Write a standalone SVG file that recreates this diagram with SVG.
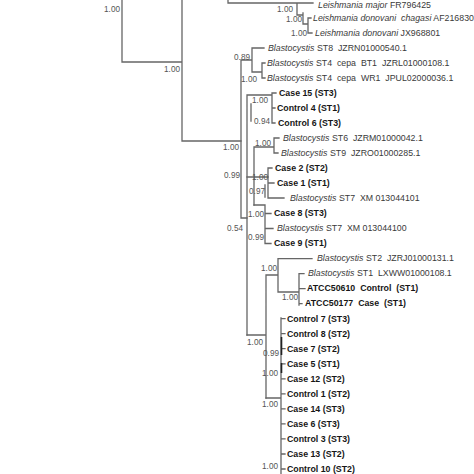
<svg xmlns="http://www.w3.org/2000/svg" width="474" height="474" viewBox="0 0 474 474">
<style>
.bg{fill:#ffffff}
.e{fill:none;stroke:#666666;stroke-width:1.3;stroke-linecap:square}
.dk{fill:none;stroke:#222;stroke-width:1.6}
text{font-family:"Liberation Sans",Arial,sans-serif;font-size:8.8px;white-space:pre}
.b{font-weight:bold;fill:#161616}
.n{fill:#3a3a3a}
.i{font-style:italic}
.s{font-size:8.2px;fill:#555;text-anchor:end}
</style>
<rect class="bg" x="0" y="0" width="474" height="474"/>
<g id="connectors">
<path class="e" d="M122,0V62H182M182,0V141H241"/>
<path class="e" d="M228,0V3H313M297,3V15H303M303,13V24H308M308,18V33M308,18H311M308,33H312"/>
<path class="e" d="M241,60V218H247M241,60H252M252,48V72M252,48H264M252,72H262M262,63V78M262,63H265M262,78H265"/>
<path class="e" d="M247,95V335M247,95H272M272,93V123M272,93H276M272,108H275M272,123H275M251,104V121"/>
<path class="e" d="M247,177H268M254,147V205M254,147H274M274,138V153M274,138H279M274,153H278"/>
<path class="e" d="M268,168V198M268,168H272M268,183H274M268,198H284M265,185V197"/>
<path class="e" d="M254,205H265M265,205V243M265,213.5H271M265,228.5H273M265,243.5H271"/>
<path class="e" d="M247,335H266M266,275V398M266,275H278M278,259V292M278,258.6H312M278,292H299M299,274V305M299,273.6H304M299,288.6H305M299,303.6H302"/>
<path class="e" d="M266,398H281M281,318V474M281,318.7H285M281,333.7H285M281,348.7H285M281,363.8H285M281,378.8H285M281,393.8H285M281,408.9H285M281,423.9H285M281,438.9H285M281,454H285M281,469H285"/>
<path class="dk" d="M281.5,337V355M281.5,363V373"/>
</g>
<g id="support">
<text class="s" x="120" y="12">1.00</text>
<text class="s" x="180" y="72">1.00</text>
<text class="s" x="239" y="150">1.00</text>
<text class="s" x="293" y="12">1.00</text>
<text class="s" x="302" y="22">1.00</text>
<text class="s" x="307" y="36">1.00</text>
<text class="s" x="250" y="60">0.89</text>
<text class="s" x="257" y="82">1.00</text>
<text class="s" x="268" y="103">1.00</text>
<text class="s" x="270" y="124">0.94</text>
<text class="s" x="271" y="146">1.00</text>
<text class="s" x="240" y="178">0.99</text>
<text class="s" x="268" y="180">1.00</text>
<text class="s" x="265" y="194">0.97</text>
<text class="s" x="264" y="217">1.00</text>
<text class="s" x="264" y="240">0.99</text>
<text class="s" x="243" y="231">0.54</text>
<text class="s" x="277" y="271">1.00</text>
<text class="s" x="298" y="300">1.00</text>
<text class="s" x="263" y="345">1.00</text>
<text class="s" x="279" y="356">0.99</text>
<text class="s" x="278" y="376">1.00</text>
<text class="s" x="278" y="407">1.00</text>
<text class="s" x="278" y="469">1.00</text>
</g>
<g id="leaf1"><text class="n" x="318" y="7.5"><tspan class="i">Leishmania major</tspan> FR796425</text></g>
<g id="leaf2"><text class="n" x="313" y="21"><tspan class="i">Leishmania donovani  chagasi</tspan> AF216830</text></g>
<g id="leaf3"><text class="n" x="315" y="36"><tspan class="i">Leishmania donovani</tspan> JX968801</text></g>
<g id="leaf4"><text class="n" x="268" y="51"><tspan class="i">Blastocystis</tspan> ST8  JZRN01000540.1</text></g>
<g id="leaf5"><text class="n" x="267" y="66"><tspan class="i">Blastocystis</tspan> ST4  cepa  BT1  JZRL01000108.1</text></g>
<g id="leaf6"><text class="n" x="267" y="81"><tspan class="i">Blastocystis</tspan> ST4  cepa  WR1  JPUL02000036.1</text></g>
<g id="leaf7"><text class="b" x="279" y="96">Case 15 (ST3)</text></g>
<g id="leaf8"><text class="b" x="277" y="111">Control 4 (ST1)</text></g>
<g id="leaf9"><text class="b" x="278" y="126">Control 6 (ST3)</text></g>
<g id="leaf10"><text class="n" x="283" y="141"><tspan class="i">Blastocystis</tspan> ST6  JZRM01000042.1</text></g>
<g id="leaf11"><text class="n" x="281" y="156"><tspan class="i">Blastocystis</tspan> ST9  JZRO01000285.1</text></g>
<g id="leaf12"><text class="b" x="275" y="171">Case 2 (ST2)</text></g>
<g id="leaf13"><text class="b" x="277" y="186">Case 1 (ST1)</text></g>
<g id="leaf14"><text class="n" x="290" y="201"><tspan class="i">Blastocystis</tspan> ST7  XM 013044101</text></g>
<g id="leaf15"><text class="b" x="274" y="216">Case 8 (ST3)</text></g>
<g id="leaf16"><text class="n" x="277" y="231"><tspan class="i">Blastocystis</tspan> ST7  XM 013044100</text></g>
<g id="leaf17"><text class="b" x="274" y="246">Case 9 (ST1)</text></g>
<g id="leaf18"><text class="n" x="317" y="261"><tspan class="i">Blastocystis</tspan> ST2  JZRJ01000131.1</text></g>
<g id="leaf19"><text class="n" x="308" y="276"><tspan class="i">Blastocystis</tspan> ST1  LXWW01000108.1</text></g>
<g id="leaf20"><text class="b" x="307" y="291">ATCC50610  Control  (ST1)</text></g>
<g id="leaf21"><text class="b" x="305" y="306">ATCC50177  Case  (ST1)</text></g>
<g id="leaf22"><text class="b" x="287" y="321.5">Control 7 (ST3)</text></g>
<g id="leaf23"><text class="b" x="287" y="336.5">Control 8 (ST2)</text></g>
<g id="leaf24"><text class="b" x="287" y="351.5">Case 7 (ST2)</text></g>
<g id="leaf25"><text class="b" x="287" y="366.5">Case 5 (ST1)</text></g>
<g id="leaf26"><text class="b" x="287" y="381.5">Case 12 (ST2)</text></g>
<g id="leaf27"><text class="b" x="287" y="396.5">Control 1 (ST2)</text></g>
<g id="leaf28"><text class="b" x="287" y="411.5">Case 14 (ST3)</text></g>
<g id="leaf29"><text class="b" x="287" y="426.5">Case 6 (ST3)</text></g>
<g id="leaf30"><text class="b" x="287" y="441.5">Control 3 (ST3)</text></g>
<g id="leaf31"><text class="b" x="287" y="456.5">Case 13 (ST2)</text></g>
<g id="leaf32"><text class="b" x="287" y="471.5">Control 10 (ST2)</text></g>
</svg>
